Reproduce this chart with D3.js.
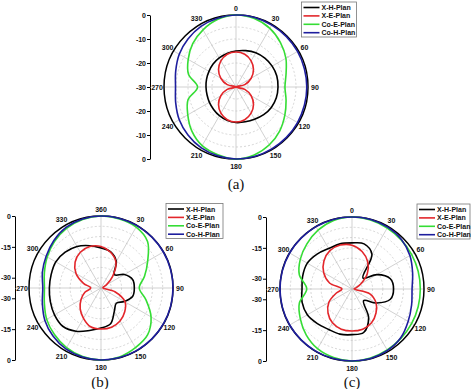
<!DOCTYPE html>
<html>
<head>
<meta charset="utf-8">
<script src="https://cdn.jsdelivr.net/npm/d3@7"></script>
<style>
  body { margin: 0; background: #fff; }
  svg { display: block; }
  .lbl { font-family: "Liberation Sans", Arial, sans-serif; font-size: 7px; font-weight: bold; fill: #111; }
  .cap { font-family: "Liberation Serif", "Times New Roman", serif; font-size: 15px; fill: #111; }
</style>
</head>
<body>
<div id="container"></div>
<script>
// angles (deg, clockwise from top) at which the patterns were read
const angles = [0, 15, 30, 45, 60, 75, 90, 105, 120, 135, 150, 165,
                180, 195, 210, 225, 240, 255, 270, 285, 300, 315, 330, 345];

const seriesNames = ["X-H-Plan", "X-E-Plan", "Co-E-Plan", "Co-H-Plan"];
const seriesColors = ["#000000", "#e3262b", "#35dd35", "#1e1e9e"];

const spokeAngles = [0, 30, 60, 90, 120, 150, 180, 210, 240, 270, 300, 330];
const spokeLabelsA = ["0", "30", "60", "90", "120", "150", "180", "210", "240", "270", "300", "330"];
const spokeLabelsB = ["360", "30", "60", "90", "120", "150", "180", "210", "240", "270", "300", "330"];

// (a) gain in dB
const aXH = [-15, -14.3, -13.5, -13, -12.6, -12.4, -12.5, -12.6, -13, -13.7, -14.5, -15,
             -15.2, -15.6, -16.2, -16.8, -17.2, -17.5, -17.5, -17.3, -17, -16.5, -16, -15.5];
const aXE = [-15.4, -15.9, -17.4, -19.7, -22.7, -26.2, -30, -26.2, -22.7, -19.7, -17.4, -15.9,
             -15.4, -15.9, -17.4, -19.7, -22.7, -26.2, -30, -26.2, -22.7, -19.7, -17.4, -15.9];
const aCoE = [0, -0.5, -1.8, -3.8, -6, -8.4, -9.6, -8.4, -6.5, -4.2, -2.2, -0.7,
              0, -0.8, -1.8, -4, -6.8, -9.3, -14, -9.5, -7, -4.5, -2.5, -0.8];
const aCoH = [0, 0, -0.2, -0.3, -0.4, -0.5, -0.5, -0.5, -0.4, -0.3, -0.2, 0,
              0, -0.3, -0.8, -1.7, -2.7, -4, -4.8, -4, -2.7, -1.7, -0.8, -0.3];

// (b)
const bXH = [-15.5, -16.8, -20.1, -25.8, -21.9, -19.1, -18.8, -19.1, -21.9, -24.5, -22, -17,
             -15.5, -13.6, -10.7, -8.7, -8.9, -9.5, -9.9, -9.9, -9.6, -10.4, -11.7, -13.7];
const bXE = [-14.8, -17, -20.5, -27, -32, -34, -34, -28, -21.5, -18.7, -16.5, -15.3,
             -15.1, -15.5, -18, -20.7, -23.8, -26.9, -30, -26.2, -21, -17.2, -14.9, -14.1];
const bCoE = [0, -0.3, -0.8, -3, -8.8, -13.1, -16.4, -12.3, -6.9, -2.9, -1.5, -0.3,
              0, -0.5, -1.5, -3, -4.5, -6.5, -7.5, -6.5, -4.8, -3, -1.5, -0.5];
const bCoH = [0, 0, 0, 0, 0, 0, 0, 0, 0, 0, 0, 0,
              0, -0.3, -0.8, -2, -3.5, -5.5, -6.7, -5.5, -4.2, -2.5, -1, -0.3];

// (c)
const cXH = [-12.6, -12.3, -15.6, -27.5, -21, -15.7, -14.8, -15.7, -21.4, -27, -18.8, -13.1,
             -12.8, -12.3, -12.3, -11.2, -9.9, -9.9, -10.7, -10.2, -9.9, -11, -12.3, -12.3];
const cXE = [-13.7, -16.1, -19.7, -24.5, -30.1, -33, -34, -26, -21.5, -18.5, -16, -14.8,
             -14.6, -14.8, -16, -18.5, -22, -27, -30.1, -23.7, -19.1, -15.7, -13.5, -12.9];
const cCoE = [0, -0.3, -0.8, -1.2, -1.5, -1.7, -1.8, -1.7, -1.5, -1.2, -0.8, -0.3,
              0, -0.5, -1.5, -3.5, -6, -8.5, -13, -8.5, -6, -4, -2, -0.5];
const cCoH = [0, 0, -0.3, -1, -2.5, -4.5, -5.8, -5, -3.5, -1.5, -0.5, 0,
              0, 0, 0, 0, 0, 0, 0, 0, 0, 0, 0, 0];

// radial axis ticks
const aTicksUp = [-30, -20, -10, 0];
const aTicksDown = [-20, -10, 0];
const bTicks = [-30, -15, 0];
const aRings = [-25, -20, -15, -10, -5];
const bRings = [-30, -25, -20, -15, -10, -5];

const svg = d3.select("#container").append("svg")
    .attr("width", 474)
    .attr("height", 389);

function renderPolar(p) {
    const g = svg.append("g");

    const rScale = d3.scaleLinear().domain([p.min, 0]).range([0, p.r]).clamp(true);

    const pg = g.append("g").attr("transform", `translate(${p.cx},${p.cy})`);

    // dashed rings
    pg.selectAll("circle.ring")
        .data(p.rings)
        .enter().append("circle")
        .attr("class", "ring")
        .attr("r", d => rScale(d))
        .attr("fill", "none")
        .attr("stroke", "#c4c4c4")
        .attr("stroke-width", 0.7)
        .attr("stroke-dasharray", "2,2");

    // spokes
    pg.selectAll("line.spoke")
        .data(spokeAngles)
        .enter().append("line")
        .attr("class", "spoke")
        .attr("x1", 0).attr("y1", 0)
        .attr("x2", d => p.r * Math.sin(d * Math.PI / 180))
        .attr("y2", d => -p.r * Math.cos(d * Math.PI / 180))
        .attr("stroke", "#bdbdbd")
        .attr("stroke-width", 0.7);

    // outer circle
    pg.append("circle")
        .attr("r", p.r)
        .attr("fill", "none")
        .attr("stroke", "#000")
        .attr("stroke-width", 1.5);

    // traces
    const line = d3.lineRadial()
        .angle((d, i) => angles[i] * Math.PI / 180)
        .radius(d => rScale(d))
        .curve(d3.curveCatmullRomClosed.alpha(0.5));

    p.series.forEach((s, i) => {
        pg.append("path")
            .attr("d", line(s))
            .attr("fill", "none")
            .attr("stroke", seriesColors[i])
            .attr("stroke-width", 1.6);
    });

    // angle labels
    pg.selectAll("text.ang")
        .data(spokeAngles)
        .enter().append("text")
        .attr("class", "lbl")
        .attr("x", d => (p.r + 7) * Math.sin(d * Math.PI / 180))
        .attr("y", d => -(p.r + 7) * Math.cos(d * Math.PI / 180))
        .attr("text-anchor", "middle")
        .attr("dominant-baseline", "central")
        .text((d, i) => p.angLabels[i]);

    // left radial axis, drawn as two halves
    const upScale = d3.scaleLinear().domain([p.min, 0]).range([p.cy, p.cy - p.r]);
    const downScale = d3.scaleLinear().domain([p.min, 0]).range([p.cy, p.cy + p.r]);

    [[upScale, p.ticksUp], [downScale, p.ticksDown]].forEach(([sc, tv]) => {
        const ax = g.append("g")
            .attr("transform", `translate(${p.axisX},0)`)
            .call(d3.axisLeft(sc).tickValues(tv).tickSize(3).tickSizeOuter(0).tickFormat(d => String(d)));
        ax.selectAll("text").attr("class", "lbl").attr("font-size", null).attr("font-family", null).attr("x", -4);
        ax.selectAll("line").attr("stroke", "#000");
        ax.select(".domain").attr("stroke", "#000");
    });

    // legend
    const lg = g.append("g").attr("transform", `translate(${p.legX},${p.legY})`);
    lg.append("rect")
        .attr("width", p.legW).attr("height", 35)
        .attr("fill", "#fff")
        .attr("stroke", "#777")
        .attr("stroke-width", 0.8);
    seriesNames.forEach((name, i) => {
        const y = 5.5 + i * 8.4;
        lg.append("line")
            .attr("x1", 2).attr("x2", 18)
            .attr("y1", y).attr("y2", y)
            .attr("stroke", seriesColors[i])
            .attr("stroke-width", 1.6);
        lg.append("text")
            .attr("class", "lbl")
            .attr("x", 20).attr("y", y)
            .attr("dominant-baseline", "central")
            .text(name);
    });

    // caption
    g.append("text")
        .attr("class", "cap")
        .attr("x", p.capX).attr("y", p.capY)
        .attr("text-anchor", "middle")
        .attr("dominant-baseline", "central")
        .text(p.caption);
}

renderPolar({cx: 236, cy: 87, r: 72, min: -30, rings: aRings,
    ticksUp: aTicksUp, ticksDown: aTicksDown, angLabels: spokeLabelsA,
    axisX: 150, legX: 301.5, legY: 2, legW: 55,
    series: [aXH, aXE, aCoE, aCoH], caption: "(a)", capX: 236, capY: 184});

renderPolar({cx: 101, cy: 288, r: 72, min: -35, rings: bRings,
    ticksUp: bTicks, ticksDown: bTicks, angLabels: spokeLabelsB,
    axisX: 15, legX: 166, legY: 203.5, legW: 57,
    series: [bXH, bXE, bCoE, bCoH], caption: "(b)", capX: 100, capY: 382});

renderPolar({cx: 352, cy: 289, r: 72, min: -35, rings: bRings,
    ticksUp: bTicks, ticksDown: bTicks, angLabels: spokeLabelsA,
    axisX: 266, legX: 417, legY: 204, legW: 53,
    series: [cXH, cXE, cCoE, cCoH], caption: "(c)", capX: 352, capY: 382});
</script>
</body>
</html>
